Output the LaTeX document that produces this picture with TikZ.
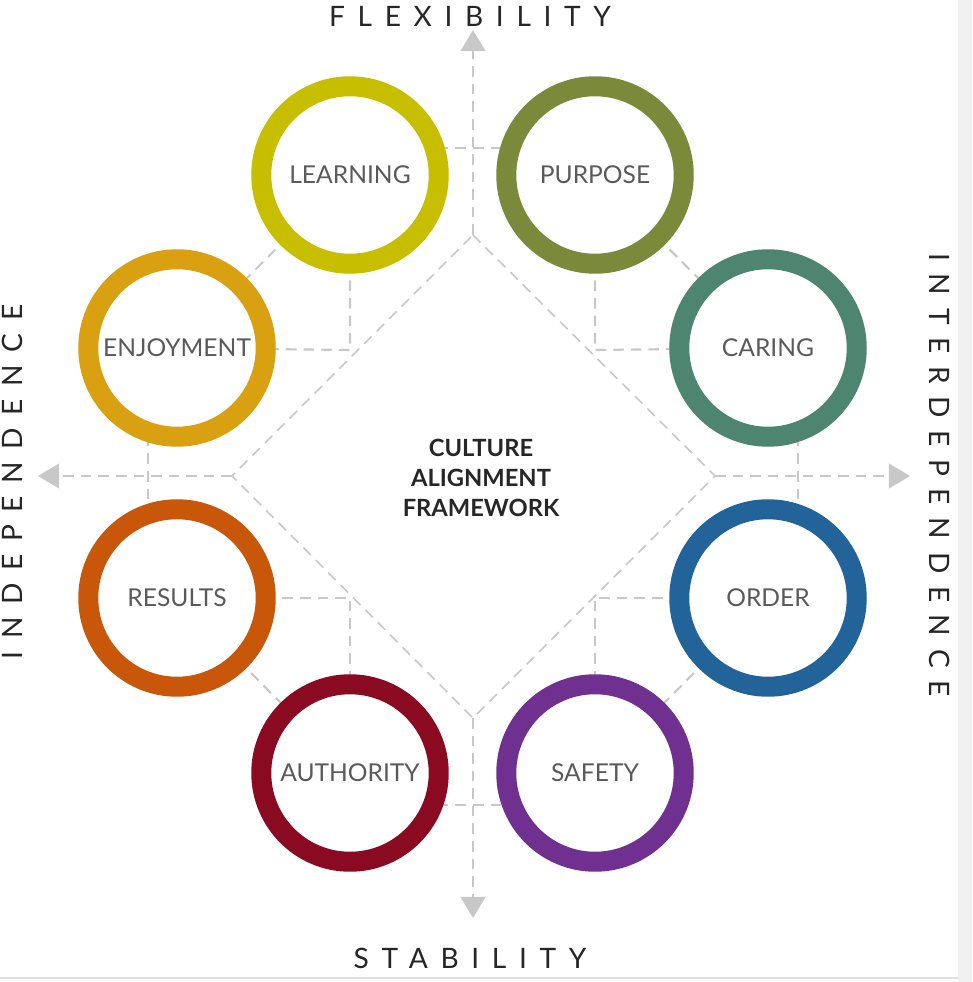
\documentclass[tikz,border=0pt]{standalone}
\usepackage{fontspec}
\setmainfont{Lato}
\usetikzlibrary{arrows.meta}
\definecolor{cLearn}{HTML}{C8BE00}
\definecolor{cPurp}{HTML}{7A8A3A}
\definecolor{cEnj}{HTML}{D9A012}
\definecolor{cCar}{HTML}{4E8570}
\definecolor{cRes}{HTML}{C8570A}
\definecolor{cOrd}{HTML}{22649A}
\definecolor{cAuth}{HTML}{8A0A22}
\definecolor{cSaf}{HTML}{70308F}
\definecolor{dashgray}{HTML}{C8C8C8}
\definecolor{txtgray}{HTML}{5A5A5A}
\tikzset{
  ring/.style={circle,draw=#1,line width=0.4cm,fill=white,minimum size=3.55cm,inner sep=0pt,
    font=\fontsize{14}{16}\selectfont,text=txtgray},
  dl/.style={draw=dashgray,line width=1.2pt,dash pattern=on 6pt off 4pt},
  axis/.style={dl,-{Triangle[length=12pt,width=14pt,fill=dashgray]}},
  axlabel/.style={font=\fontsize{16}{20}\selectfont\addfontfeature{LetterSpace=45},text=black!85},
  center/.style={font=\fontsize{13.5}{17}\selectfont\bfseries,align=center,text=black!85}
}
\begin{document}
\begin{tikzpicture}[x=0.02cm,y=-0.02cm]
\useasboundingbox (0,0) rectangle (972,982);
\fill[white] (0,0) rectangle (972,982);
\fill[black!6] (958,0) rectangle (972,982);
\coordinate (L) at (350,175); \coordinate (P) at (595,175);
\coordinate (E) at (177,348); \coordinate (C) at (768,348);
\coordinate (R) at (177,598); \coordinate (O) at (768,598);
\coordinate (A) at (350,773); \coordinate (S) at (595,773);
\coordinate (T) at (473,235); \coordinate (Rt) at (715,476);
\coordinate (B) at (473,718); \coordinate (Lf) at (232,476);
\coordinate (axT) at (473,30); \coordinate (axB) at (473,918);
\coordinate (axL) at (38,476); \coordinate (axR) at (910,476);
% axes
\draw[axis] (T) -- (axT);
\draw[axis] (B) -- (axB);
\draw[axis] (Lf) -- (axL);
\draw[axis] (Rt) -- (axR);
% diamond
\draw[dl,line width=0.9pt] (T) -- (Rt) -- (B) -- (Lf) -- cycle;
% connectors
\draw[dl] (L) -- (E); \draw[dl] (P) -- (C);
\draw[dl] (R) -- (A); \draw[dl] (O) -- (S);
\draw[dl] (L) -- (350,350) -- (E);
\draw[dl] (P) -- (595,350) -- (C);
\draw[dl] (R) -- (350,598) -- (A);
\draw[dl] (O) -- (595,598) -- (S);
\draw[dl] (350,148) -- (595,148);
\draw[dl] (350,805) -- (595,805);
\draw[dl] (148,348) -- (148,598);
\draw[dl] (798,348) -- (798,598);
% rings
\node[ring=cLearn] (learn) at (L) {LEARNING};
\node[ring=cPurp] (purp) at (P) {PURPOSE};
\node[ring=cEnj] (enj) at (E) {ENJOYMENT};
\node[ring=cCar] (car) at (C) {CARING};
\node[ring=cRes] (res) at (R) {RESULTS};
\node[ring=cOrd] (ord) at (O) {ORDER};
\node[ring=cAuth] (auth) at (A) {AUTHORITY};
\node[ring=cSaf] (saf) at (S) {SAFETY};
\node[center] (ctr) at (481,478) {CULTURE\\ALIGNMENT\\FRAMEWORK};
% axis labels
\node[axlabel] (flex) at (470,16) {FLEXIBILITY};
\node[axlabel] (stab) at (470,958) {STABILITY};
\node[axlabel,rotate=90] (indep) at (12,482) {INDEPENDENCE};
\node[axlabel,rotate=-90] (inter) at (940,475) {INTERDEPENDENCE};
\draw[black!12,line width=1pt] (0,978) -- (958,978);
\end{tikzpicture}
\end{document}
